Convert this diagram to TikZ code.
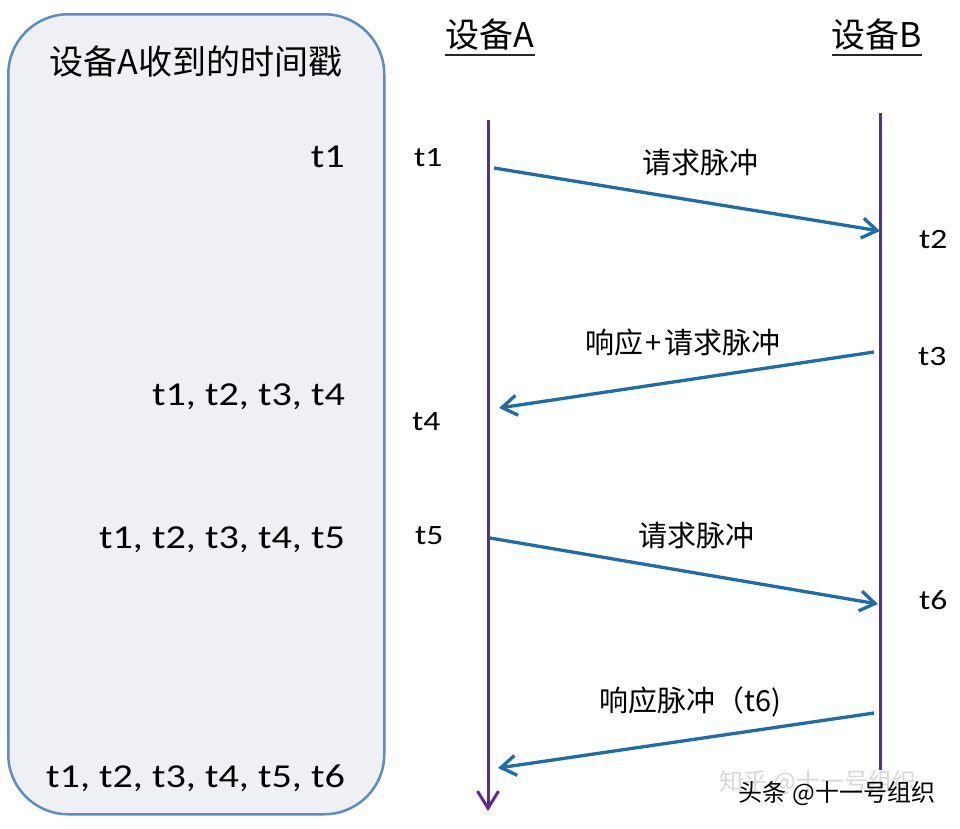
\documentclass[tikz,border=0pt]{standalone}
\usepackage{fontspec}
\setmainfont{Carlito}[FakeStretch=1.2]
\newfontfamily\cjk{Noto Sans CJK SC}
\usetikzlibrary{arrows.meta}
\definecolor{boxfill}{HTML}{EEF0F4}
\definecolor{boxline}{HTML}{5B8CC2}
\definecolor{lifec}{HTML}{5E2A8A}
\definecolor{msgc}{HTML}{1E6CA8}
\definecolor{wmfaint}{HTML}{D8D8D8}
\begin{document}
\begin{tikzpicture}[x=1pt,y=-1pt,
  boxlist/.style={font=\fontsize{33.5}{38}\selectfont, inner sep=0pt, anchor=base east},
  tlab/.style={font=\fontsize{28}{32}\selectfont, inner sep=0pt, anchor=base west},
  cj/.style={font=\cjk\fontsize{29}{34}\selectfont, inner sep=0pt},
  cjbig/.style={font=\cjk\fontsize{34}{40}\selectfont, inner sep=0pt},
  lifeline/.style={draw=lifec, line width=3pt},
  msgarrow/.style={draw=msgc, line width=3.3pt, -{Straight Barb[length=15pt,width=20pt]}},
  wm/.style={font=\cjk\fontsize{24}{28}\selectfont, inner sep=0pt}]
\useasboundingbox (0,0) rectangle (960,828);
\fill[white] (0,0) rectangle (960,828);

% left box
\node[draw=boxline, fill=boxfill, line width=2.5pt, rounded corners=60pt,
      minimum width=376pt, minimum height=800pt, anchor=north west, inner sep=0pt] (box) at (7,13) {};
\node[cjbig] (title) at (196,62) {设备A收到的时间戳};
\node[boxlist] (r1) at (345,167) {t1};
\node[boxlist] (r2) at (345,405) {t1, t2, t3, t4};
\node[boxlist] (r3) at (345,548) {t1, t2, t3, t4, t5};
\node[boxlist] (r4) at (345,787) {t1, t2, t3, t4, t5, t6};

% headers
\node[cjbig] (hA) at (490,35) {设备A};
\node[cjbig] (hB) at (877,35) {设备B};
\draw[line width=1.8pt, black!85] ([yshift=-4pt]hA.south west) -- ([yshift=-4pt]hA.south east);
\draw[line width=1.8pt, black!85] ([yshift=-4pt]hB.south west) -- ([yshift=-4pt]hB.south east);

% lifelines
\coordinate (Atop) at (488,120);
\coordinate (Abot) at (488,811);
\coordinate (Btop) at (880,113);
\coordinate (Bbot) at (880,770);
\draw[lifeline, -{Straight Barb[length=17pt,width=21pt]}] (Atop) -- (Abot);
\draw[lifeline] (Btop) -- (Bbot);

% messages
\coordinate (m1s) at (494,168);
\coordinate (m1e) at (880,231);
\coordinate (m2s) at (874,352);
\coordinate (m2e) at (499,408);
\coordinate (m3s) at (490,538);
\coordinate (m3e) at (878,604);
\coordinate (m4s) at (874,713);
\coordinate (m4e) at (498,768);
\draw[msgarrow] (m1s) -- (m1e);
\draw[msgarrow] (m2s) -- (m2e);
\draw[msgarrow] (m3s) -- (m3e);
\draw[msgarrow] (m4s) -- (m4e);

\node[cj] (l1) at (700,163) {请求脉冲};
\node[cj] (l2) at (683,342) {响应\hspace{2pt}+\hspace{2pt}请求脉冲};
\node[cj] (l3) at (696,535) {请求脉冲};
\node[cj] (l4) at (690,702) {响应脉冲（t6)};

% time labels
\node[tlab] (t1) at (414,166) {t1};
\node[tlab] (t2) at (919,248) {t2};
\node[tlab] (t3) at (918,365) {t3};
\node[tlab] (t4) at (412,430) {t4};
\node[tlab] (t5) at (415,544) {t5};
\node[tlab] (t6) at (919,609) {t6};

% watermarks (overlapping, as in the reference)
\node[wm, text=wmfaint] (wm1) at (818,782) {知乎 @十一号组织};
\node[wm, text=black] (wm2) at (837,793) {头条 @十一号组织};
\end{tikzpicture}
\end{document}
